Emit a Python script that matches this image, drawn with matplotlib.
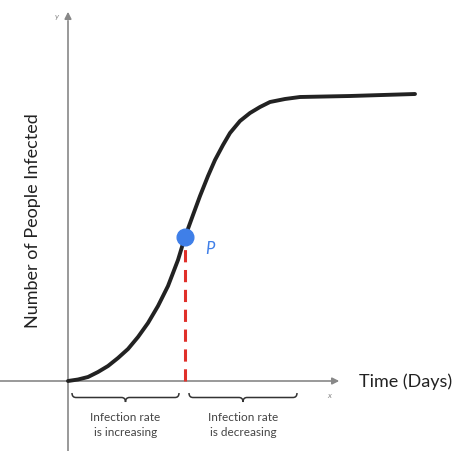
import matplotlib
matplotlib.use("Agg")
import matplotlib.pyplot as plt
from matplotlib.path import Path
from matplotlib.patches import PathPatch

plt.rcParams['font.family'] = ['Lato', 'DejaVu Sans']

days = [0, 10, 20, 30, 40, 50, 60, 70, 80, 90, 100, 110, 117, 125, 132, 140, 147, 155,
        162, 172, 182, 192, 202, 217, 232, 282, 347]
infected = [0, 1.5, 4, 9, 15, 23, 32, 44, 58, 75, 95, 121, 144, 166, 185, 205, 221, 236,
            248, 260, 268, 274, 279, 282, 284, 285, 287]
p_day, p_val = 117, 144

fig = plt.figure(figsize=(4.74, 4.51), dpi=100)
ax = fig.add_axes([0, 0, 1, 1])
ax.set_xlim(-68, 406)
ax.set_ylim(-70, 381)
ax.axis("off")

gray = "#888888"
ax.plot([-68, 268], [0, 0], color=gray, lw=1.2)
ax.annotate("", xy=(274, 0), xytext=(262, 0),
            arrowprops=dict(arrowstyle="-|>", color=gray, lw=1.2, mutation_scale=10))
ax.plot([0, 0], [-70, 360], color=gray, lw=1.2)
ax.annotate("", xy=(0, 372), xytext=(0, 360),
            arrowprops=dict(arrowstyle="-|>", color=gray, lw=1.2, mutation_scale=10))
ax.text(-11, 365, "y", fontsize=6, color=gray, style="italic", ha="center", va="center")
ax.text(261, -14, "x", fontsize=6, color=gray, style="italic", ha="center", va="center")

ax.plot(days, infected, color="#222222", lw=2.8, solid_capstyle="round", solid_joinstyle="round")

ax.plot([p_day, p_day], [0, p_val], color="#e0302a", lw=2.2, ls=(0, (4, 2.5)))
ax.plot([p_day], [p_val], "o", color="#3f7fe8", ms=12, zorder=5)
ax.text(p_day + 25, p_val - 12, "P", color="#3f7fe8", fontsize=12, style="italic",
        ha="center", va="center")

ax.text(291, -1, "Time (Days)", fontsize=13, color="#222222", ha="left", va="center")
ax.text(-35, 160, "Number of People Infected", fontsize=13, color="#222222",
        rotation=90, ha="center", va="center")

def brace(x0, x1, y):
    xm = (x0 + x1) / 2
    h = 9
    verts = [(x0, y), (x0, y - h / 2), (x0 + 4, y - h / 2), (xm - 4, y - h / 2),
             (xm, y - h / 2), (xm, y - h), (xm, y - h / 2), (xm + 4, y - h / 2),
             (x1 - 4, y - h / 2), (x1, y - h / 2), (x1, y)]
    codes = [Path.MOVETO, Path.CURVE3, Path.CURVE3, Path.LINETO, Path.CURVE3, Path.CURVE3,
             Path.CURVE3, Path.CURVE3, Path.LINETO, Path.CURVE3, Path.CURVE3]
    ax.add_patch(PathPatch(Path(verts, codes), fill=False, color="#333333", lw=1.1))

brace(4, 111, -12)
brace(121, 229, -12)
ax.text(57.5, -44, "Infection rate\nis increasing", fontsize=8.5, color="#444444",
        ha="center", va="center", linespacing=1.4)
ax.text(175, -44, "Infection rate\nis decreasing", fontsize=8.5, color="#444444",
        ha="center", va="center", linespacing=1.4)

fig.savefig("out.png", dpi=100)
